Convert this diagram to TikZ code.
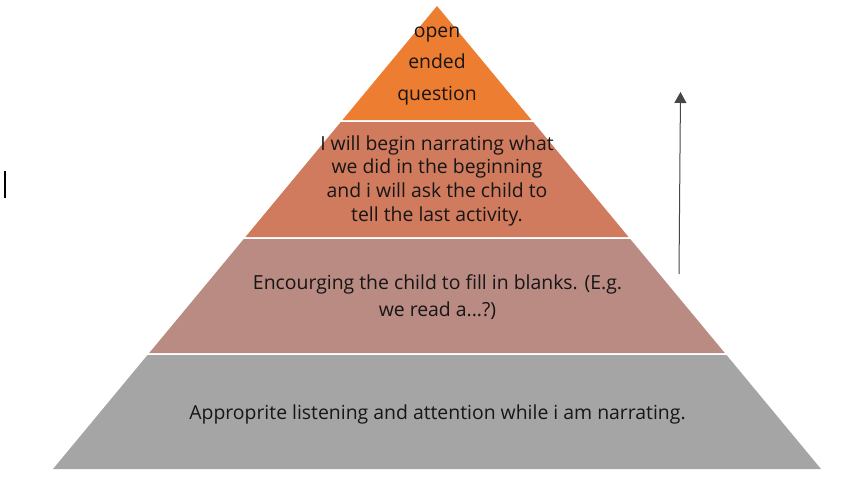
\documentclass[tikz,border=0pt]{standalone}
\usepackage{fontspec}
\setmainfont{Open Sans}
\usetikzlibrary{arrows.meta}
\definecolor{layA}{RGB}{237,125,49}
\definecolor{layB}{RGB}{209,123,94}
\definecolor{layC}{RGB}{185,139,130}
\definecolor{layD}{RGB}{165,165,165}
\definecolor{txt}{RGB}{22,22,22}
\definecolor{arrowgray}{RGB}{70,70,70}
\begin{document}
\begin{tikzpicture}[x=1pt,y=-1pt,
  lbl/.style={anchor=base,inner sep=0pt,text=txt,font=\fontsize{19.4}{23}\selectfont},
  layer/.style={draw=none}]
\useasboundingbox (0,0) rectangle (860,496);
% pyramid layers
\fill[layA] (437,6) -- (531.55,120) -- (342.45,120) -- cycle;
\fill[layB] (340.8,122) -- (533.2,122) -- (628.6,237) -- (245.4,237) -- cycle;
\fill[layC] (243.75,239) -- (630.25,239) -- (724.8,353) -- (149.2,353) -- cycle;
\fill[layD] (147.5,355) -- (726.5,355) -- (821,469) -- (53,469) -- cycle;
% texts
\node[lbl] (a1) at (437,37) {open};
\node[lbl] (a2) at (437,68.5) {ended};
\node[lbl] (a3) at (437,100) {question};
\node[lbl] (b1) at (437,150) {I will begin narrating what};
\node[lbl] (b2) at (437,173.5) {we did in the beginning};
\node[lbl] (b3) at (437,197) {and i will ask the child to};
\node[lbl] (b4) at (437,221) {tell the last activity.};
\node[lbl] (c1) at (437.5,289.5) {Encourging the child to fill in blanks. (E.g.};
\node[lbl] (c2) at (437.5,316.5) {we read a...?)};
\node[lbl] (d1) at (437.5,419.5) {Approprite listening and attention while i am narrating.};
% arrow
\coordinate (arrbot) at (679,274);
\coordinate (arrtop) at (680.5,92);
\draw[arrowgray,line width=1pt,-{Triangle[length=11pt,width=12pt]}] (arrbot) -- (arrtop);
% small mark at left
\coordinate (markt) at (5,171);
\coordinate (markb) at (5,198);
\draw[black,line width=1.1pt] (markt) -- (markb);
\end{tikzpicture}
\end{document}
